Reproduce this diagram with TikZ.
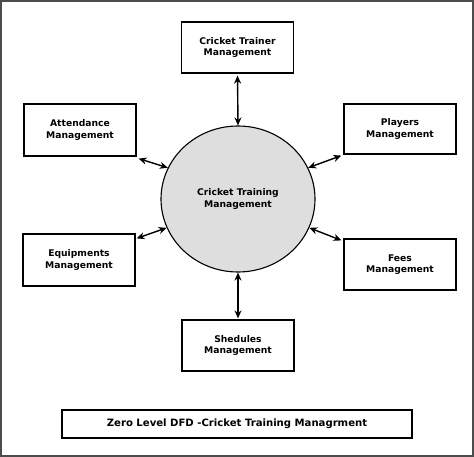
\documentclass[tikz,border=0pt]{standalone}
\usepackage{fontspec}
\setmainfont{DejaVu Sans}
\usetikzlibrary{shapes.geometric,arrows.meta,calc}
\begin{document}
\begin{tikzpicture}[x=1pt,y=-1pt,
  ent/.style={draw=black,line width=1.2pt,fill=white,align=center,inner sep=0pt,
    minimum width=112pt,minimum height=51pt,
    font=\fontsize{9.2}{11.3}\selectfont\bfseries},
  proc/.style={ellipse,draw=black,line width=1.1pt,fill=black!13,align=center,
    inner sep=0pt,minimum width=154pt,minimum height=146pt,
    font=\fontsize{9.2}{11.3}\selectfont\bfseries},
  flow/.style={line width=1.4pt,{Stealth[length=8pt,width=7pt]}-{Stealth[length=8pt,width=7pt]}}]
\useasboundingbox (0,0) rectangle (474,457);
\fill[white] (0,0) rectangle (474,457);
\draw[line width=2.5pt,black!70] (1.2,1.2) rectangle (472.8,455.8);
\node[proc] (c) at (238,199) {Cricket Training\\Management};
\node[ent] (tr) at (237.5,47.5) {Cricket Trainer\\Management};
\node[ent,minimum height=52pt] (at) at (80,130) {Attendance\\Management};
\node[ent,minimum height=50pt] (pl) at (400,129) {Players\\Management};
\node[ent,minimum height=52pt] (eq) at (79,260) {Equipments\\Management};
\node[ent] (fe) at (400,264.5) {Fees\\Management};
\node[ent] (sh) at (238,345.5) {Shedules\\Management};
\node[draw=black,line width=1.2pt,minimum width=350pt,minimum height=28pt,inner sep=0pt,
  font=\fontsize{10.1}{12}\selectfont\bfseries] (ti) at (237,424) {Zero Level DFD -Cricket Training Managrment};
\draw[flow] ([yshift=-2pt]tr.south) -- (c.north);
\draw[flow] ([xshift=2pt,yshift=-2pt]at.south east) -- (c.156);
\draw[flow] ([xshift=-2pt,yshift=-1pt]pl.south west) -- (c.24);
\draw[flow] ([xshift=1pt,yshift=-5pt]eq.north east) -- (c.202);
\draw[flow] ([xshift=-2pt,yshift=-2pt]fe.north west) -- (c.338);
\draw[flow] (c.south) -- ([yshift=1pt]sh.north);
\end{tikzpicture}
\end{document}
